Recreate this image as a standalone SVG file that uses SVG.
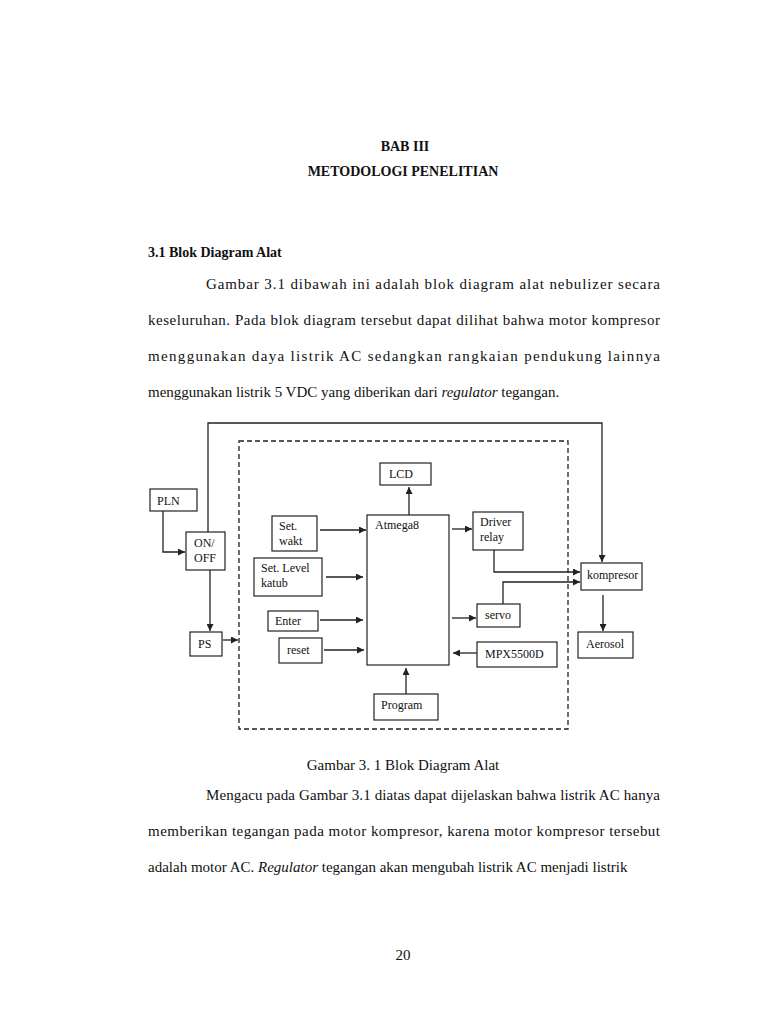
<svg xmlns="http://www.w3.org/2000/svg" width="768" height="1024" viewBox="0 0 768 1024">
<style>
text{font-family:"Liberation Serif",serif;fill:#111}
.b{font-weight:bold;font-size:14px}
.p{font-size:15px}
.n{font-size:12px}
.box{fill:#fff;stroke:#222;stroke-width:1.2}
.ln{fill:none;stroke:#222;stroke-width:1.3}
</style>
<defs><marker id="a" viewBox="0 0 10 10" refX="10" refY="5" markerWidth="7" markerHeight="7" orient="auto" markerUnits="userSpaceOnUse"><path d="M0,0L10,5L0,10z" fill="#222"/></marker></defs>
<rect width="768" height="1024" fill="#fff"/>
<text class="b" x="405" y="151" text-anchor="middle">BAB III</text>
<text class="b" x="403" y="176" text-anchor="middle">METODOLOGI PENELITIAN</text>
<text class="b" x="148" y="257">3.1  Blok Diagram Alat</text>
<text class="p" x="206" y="289" textLength="454" lengthAdjust="spacing">Gambar 3.1 dibawah ini adalah blok diagram alat nebulizer secara</text>
<text class="p" x="148" y="325" textLength="512" lengthAdjust="spacing">keseluruhan. Pada blok diagram tersebut dapat dilihat bahwa motor kompresor</text>
<text class="p" x="148" y="361" textLength="512" lengthAdjust="spacing">menggunakan daya listrik AC sedangkan rangkaian pendukung lainnya</text>
<text class="p" x="148" y="397">menggunakan listrik 5 VDC yang diberikan dari <tspan font-style="italic">regulator</tspan> tegangan.</text>
<rect x="239" y="441" width="329" height="288" fill="none" stroke="#222" stroke-width="1.3" stroke-dasharray="5,3"/>
<g id="connectors">
<path class="ln" d="M208,532V423H602V562" marker-end="url(#a)"/>
<path class="ln" d="M163,511V552H185" marker-end="url(#a)"/>
<path class="ln" d="M210,570V631" marker-end="url(#a)"/>
<path class="ln" d="M223,640H238" marker-end="url(#a)"/>
<path class="ln" d="M320,530H366" marker-end="url(#a)"/>
<path class="ln" d="M326,577H363" marker-end="url(#a)"/>
<path class="ln" d="M320,620H363" marker-end="url(#a)"/>
<path class="ln" d="M324,650H364" marker-end="url(#a)"/>
<path class="ln" d="M409,515V487" marker-end="url(#a)"/>
<path class="ln" d="M452,529H472" marker-end="url(#a)"/>
<path class="ln" d="M452,618H476" marker-end="url(#a)"/>
<path class="ln" d="M477,653H453" marker-end="url(#a)"/>
<path class="ln" d="M406,694V668" marker-end="url(#a)"/>
<path class="ln" d="M494,550V572H580" marker-end="url(#a)"/>
<path class="ln" d="M503,604V582H580" marker-end="url(#a)"/>
<path class="ln" d="M603,595V631" marker-end="url(#a)"/>
</g>
<g id="pln"><rect class="box" x="150" y="489" width="47" height="22"/><text class="n" x="157" y="505">PLN</text></g>
<g id="onoff"><rect class="box" x="186" y="532" width="39" height="38"/><text class="n" x="194" y="547">ON/</text><text class="n" x="194" y="562">OFF</text></g>
<g id="ps"><rect class="box" x="190" y="632" width="32" height="24"/><text class="n" x="198" y="648">PS</text></g>
<g id="lcd"><rect class="box" x="380" y="463" width="51" height="22"/><text class="n" x="389" y="478">LCD</text></g>
<g id="setwakt"><rect class="box" x="272" y="516" width="45" height="35"/><text class="n" x="279" y="530">Set.</text><text class="n" x="279" y="545">wakt</text></g>
<g id="setlevel"><rect class="box" x="254" y="558" width="68" height="38"/><text class="n" x="261" y="572">Set. Level</text><text class="n" x="261" y="587">katub</text></g>
<g id="enter"><rect class="box" x="268" y="611" width="50" height="20"/><text class="n" x="275" y="625">Enter</text></g>
<g id="reset"><rect class="box" x="279" y="638" width="43" height="25"/><text class="n" x="287" y="654">reset</text></g>
<g id="atmega"><rect class="box" x="367" y="515" width="82" height="150"/><text class="n" x="375" y="529">Atmega8</text></g>
<g id="driver"><rect class="box" x="473" y="512" width="50" height="38"/><text class="n" x="480" y="526">Driver</text><text class="n" x="480" y="541">relay</text></g>
<g id="servo"><rect class="box" x="477" y="604" width="43" height="23"/><text class="n" x="485" y="619">servo</text></g>
<g id="mpx"><rect class="box" x="477" y="642" width="80" height="25"/><text class="n" x="485" y="658">MPX5500D</text></g>
<g id="program"><rect class="box" x="374" y="694" width="64" height="26"/><text class="n" x="381" y="709">Program</text></g>
<g id="kompresor"><rect class="box" x="581" y="563" width="61" height="27"/><text class="n" x="587" y="579">kompresor</text></g>
<g id="aerosol"><rect class="box" x="578" y="632" width="55" height="26"/><text class="n" x="586" y="648">Aerosol</text></g>
<text class="p" x="403" y="770" text-anchor="middle">Gambar 3. 1 Blok Diagram Alat</text>
<text class="p" x="206" y="800" textLength="454" lengthAdjust="spacing">Mengacu pada Gambar 3.1 diatas dapat dijelaskan bahwa listrik AC hanya</text>
<text class="p" x="148" y="836" textLength="512" lengthAdjust="spacing">memberikan tegangan pada motor kompresor, karena motor kompresor tersebut</text>
<text class="p" x="148" y="872">adalah motor AC. <tspan font-style="italic">Regulator</tspan> tegangan akan mengubah listrik AC menjadi listrik</text>
<text class="p" x="403" y="960" text-anchor="middle">20</text>
</svg>
